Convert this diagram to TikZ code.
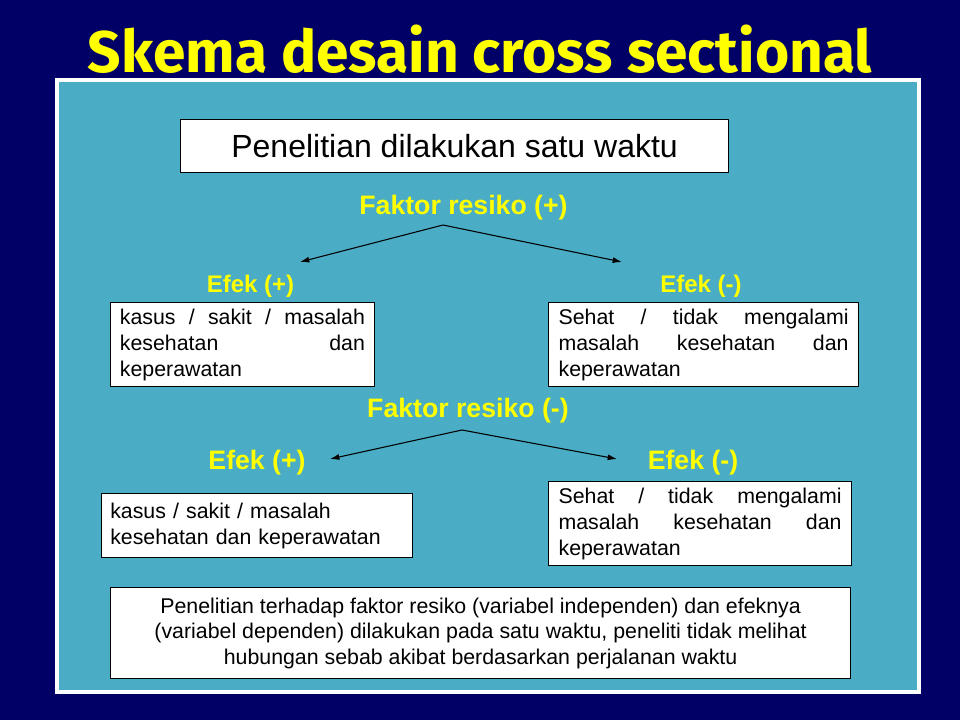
\documentclass[tikz,border=0pt]{standalone}
\usepackage{fontspec}
\setmainfont{Liberation Sans}
\newfontfamily\titlefont{Fira Sans}
\usetikzlibrary{arrows.meta}
\definecolor{navybg}{RGB}{0,0,102}
\definecolor{panelblue}{RGB}{75,172,198}
\definecolor{ttlyellow}{RGB}{255,255,0}
\begin{document}
\begin{tikzpicture}[x=0.75pt,y=-0.75pt,
  wbox/.style={draw=black,line width=0.9pt,fill=white,inner ysep=0pt,anchor=north west,
     font=\fontsize{16}{19.5}\selectfont,text=black},
  lbl/.style={text=ttlyellow,font=\bfseries,inner sep=0pt},
  arr/.style={draw=black,line width=0.8pt,-{Latex[length=7pt,width=4.5pt]}}]
\fill[navybg] (0,0) rectangle (960,720);
\useasboundingbox (0,0) rectangle (960,720);
\draw[white,line width=3pt,fill=panelblue] (57,80) rectangle (919,692);
\node[text=ttlyellow,inner sep=0pt,anchor=base,font=\titlefont\bfseries\fontsize{44}{50}\selectfont] (title) at (480,73) {Skema desain cross sectional};
% top box
\node[wbox,inner xsep=0pt,minimum width=411pt,minimum height=39.75pt,align=center,font=\fontsize{24}{28}\selectfont] (top) at (180,119) {Penelitian dilakukan satu waktu};
% faktor +
\node[lbl,font=\bfseries\fontsize{20}{24}\selectfont] (fp) at (463.5,208) {Faktor resiko (+)};
\coordinate (fpo) at (443,225);
\coordinate (fpl) at (300,262);
\coordinate (fpr) at (622,262);
\draw[arr] (fpo) -- (fpl);
\draw[arr] (fpo) -- (fpr);
\node[lbl,font=\bfseries\fontsize{18}{22}\selectfont] (e1p) at (250.5,286) {Efek (+)};
\node[lbl,font=\bfseries\fontsize{18}{22}\selectfont] (e1m) at (701,286) {Efek (-)};
\node[wbox,inner xsep=7pt,text width=183.75pt,minimum height=63pt,align=justify] (b1l) at (110,302)
  {\hyphenpenalty=10000 kasus / sakit / masalah\linebreak kesehatan dan\linebreak keperawatan};
\node[wbox,inner xsep=7.5pt,text width=217.5pt,minimum height=63pt,align=justify] (b1r) at (548,302)
  {\hyphenpenalty=10000 Sehat / tidak mengalami\linebreak masalah kesehatan dan\linebreak keperawatan};
% faktor -
\node[lbl,font=\bfseries\fontsize{20}{24}\selectfont] (fm) at (468,411) {Faktor resiko (-)};
\coordinate (fmo) at (462,430);
\coordinate (fml) at (330,459);
\coordinate (fmr) at (617,459);
\draw[arr] (fmo) -- (fml);
\draw[arr] (fmo) -- (fmr);
\node[lbl,font=\bfseries\fontsize{20}{24}\selectfont] (e2p) at (257,463) {Efek (+)};
\node[lbl,font=\bfseries\fontsize{20}{24}\selectfont] (e2m) at (693,463) {Efek (-)};
\node[wbox,inner xsep=6.5pt,text width=220pt,minimum height=48pt,align=left] (b2l) at (101,493)
  {kasus / sakit / masalah\\kesehatan dan keperawatan};
\node[wbox,inner xsep=7.5pt,text width=212.25pt,minimum height=63pt,align=justify] (b2r) at (548,481)
  {\hyphenpenalty=10000 Sehat / tidak mengalami\linebreak masalah kesehatan dan\linebreak keperawatan};
% bottom
\node[wbox,inner xsep=0pt,minimum width=555pt,minimum height=68.25pt,align=center,
  font=\fontsize{16}{19.2}\selectfont] (bot) at (110,587)
  {Penelitian terhadap faktor resiko (variabel independen) dan efeknya\\
   (variabel dependen) dilakukan pada satu waktu, peneliti tidak melihat\\
   hubungan sebab akibat berdasarkan perjalanan waktu};
\end{tikzpicture}
\end{document}
